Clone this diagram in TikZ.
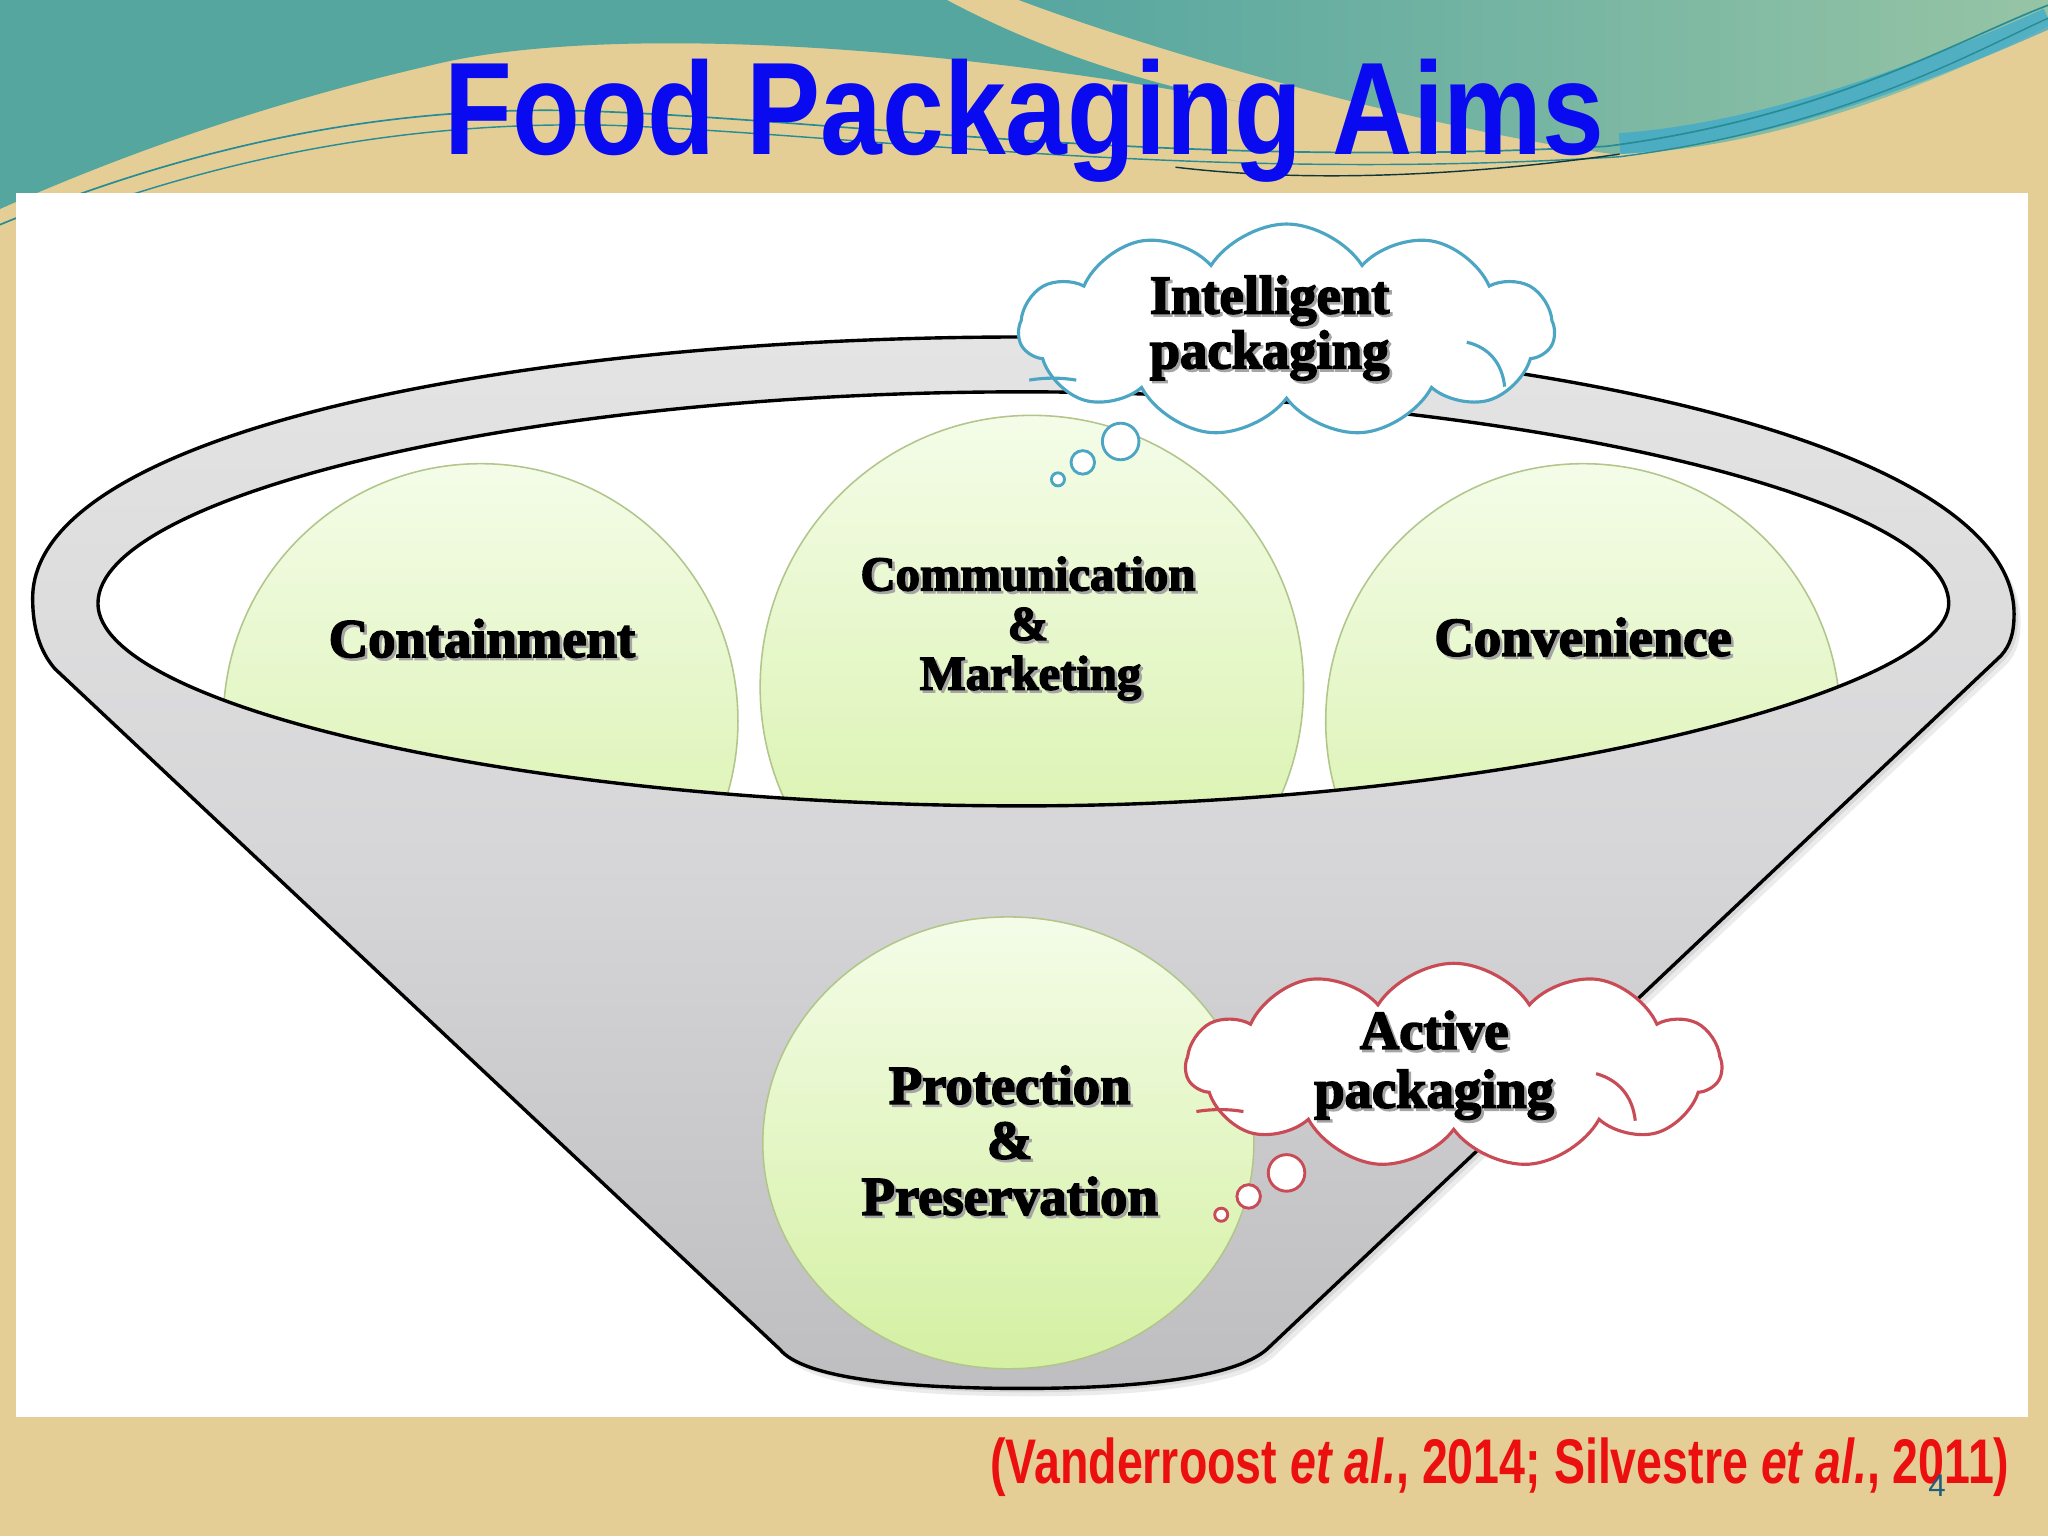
\documentclass[tikz,border=0pt]{standalone}
\usepackage{fontspec}
\usepackage{graphicx}
\usetikzlibrary{shapes.symbols}
\setmainfont{Liberation Serif}
\newfontfamily\sansb{Liberation Sans}
\newfontfamily\lab{Liberation Serif}[BoldFeatures={FakeBold=3}]

\definecolor{tanbg}{RGB}{228,206,150}
\definecolor{tealA}{RGB}{86,166,160}
\definecolor{tealB}{RGB}{150,196,165}
\definecolor{cyanband}{RGB}{60,170,205}
\definecolor{swline}{RGB}{40,140,150}
\definecolor{titleblue}{RGB}{10,10,240}
\definecolor{citered}{RGB}{235,15,15}
\definecolor{rimgrey}{RGB}{228,228,228}
\definecolor{conemid}{RGB}{214,214,216}
\definecolor{conebot}{RGB}{190,190,192}
\definecolor{greentop}{RGB}{244,252,232}
\definecolor{greenbot}{RGB}{212,240,162}
\definecolor{greenedge}{RGB}{178,198,140}
\definecolor{cloudblue}{RGB}{75,165,195}
\definecolor{cloudred}{RGB}{200,75,85}
\definecolor{pagenum}{RGB}{30,95,125}
\definecolor{shadowgrey}{RGB}{165,165,165}

\tikzset{
  circ/.style={draw=greenedge, line width=1.2pt, top color=greentop, bottom color=greenbot},
  lblbig/.style={font=\lab\bfseries\fontsize{41.8}{42}\selectfont, inner sep=0pt},
  lblsmall/.style={font=\lab\bfseries\fontsize{37.2}{38}\selectfont, inner sep=0pt},
  thought/.style={cloud, cloud puffs=11, cloud puff arc=115, cloud ignores aspect,
     fill=white, line width=2.4pt, inner sep=0pt},
  bub/.style={circle, fill=white, line width=2.2pt, inner sep=0pt},
  rimline/.style={draw=black, line width=2.6pt},
}

\newcommand\lline[5]{%
  \node[#4, text=shadowgrey, anchor=base] (#1s) at (#2+2,#3+2) {#5};
  \node[#4, text=black, anchor=base] (#1) at (#2,#3) {#5};}

\def\outerpath{(25,458) .. controls (25,330) and (400,258) .. (783,258)
  .. controls (1170,258) and (1542,340) .. (1542,470)
  .. controls (1542,485) and (1539,494) .. (1532,502) -- (970,1033)
  .. controls (945,1055) and (870,1063) .. (783,1063)
  .. controls (690,1063) and (615,1055) .. (597,1033) -- (42,512)
  .. controls (30,498) and (25,480) .. (25,458) -- cycle}
\def\innerpath{(75,462) .. controls (75,380) and (400,300) .. (783,300)
  .. controls (1150,300) and (1492,380) .. (1492,462)
  .. controls (1492,530) and (1150,617) .. (783,617)
  .. controls (400,617) and (75,540) .. (75,462) -- cycle}

\begin{document}
\begin{tikzpicture}[x=1pt,y=-1pt]
\useasboundingbox (0,0) rectangle (1568,1176);
% background
\fill[tanbg] (0,0) rectangle (1568,1176);
\fill[tealA] (0,0) -- (725,0) .. controls (800,40) and (880,65) .. (960,80)
   .. controls (700,30) and (450,20) .. (330,50)
   .. controls (200,80) and (90,120) .. (0,160) -- cycle;
\shade[left color=tealA, right color=tealB] (780,0) -- (1568,0) -- (1568,20)
   .. controls (1470,70) and (1350,115) .. (1235,118)
   .. controls (1100,100) and (900,45) .. (780,0) -- cycle;
\draw[cyanband, line width=16pt, opacity=0.75] (1240,110) .. controls (1350,102) and (1470,58) .. (1568,14);
\draw[swline, line width=1.3pt] (0,172) .. controls (150,110) and (300,80) .. (450,85)
   .. controls (650,92) and (900,130) .. (1230,112) .. controls (1400,90) and (1500,30) .. (1568,4);
\draw[swline, line width=1.1pt] (20,178) .. controls (170,118) and (320,92) .. (470,96)
   .. controls (670,104) and (920,140) .. (1240,120) .. controls (1410,98) and (1510,40) .. (1568,14);
\draw[black!60!swline, line width=1.1pt] (900,128) .. controls (1000,140) and (1120,135) .. (1240,118);

% white panel
\fill[white] (12,148) rectangle (1553,1085);

% funnel (soft shadow, body, rim)
\begin{scope}[shift={(5,6)}]
  \fill[black, opacity=0.08] \outerpath;
\end{scope}
\begin{scope}[shift={(3,3)}]
  \fill[black, opacity=0.08] \outerpath;
\end{scope}
\shade[top color=rimgrey, bottom color=conebot, middle color=conemid] \outerpath;
\draw[rimline] \outerpath;
\fill[white] \innerpath;
\begin{scope}
  \clip \innerpath;
  \path[circ] (368,552) circle[radius=197];
  \path[circ] (790,526) circle[radius=208];
  \path[circ] (1212,552) circle[radius=197];
\end{scope}
\draw[rimline] \innerpath;
\path[circ] (772,875) ellipse[x radius=188, y radius=173];

% labels in circles
\lline{cont}{369}{503}{lblbig}{Containment}
\lline{conv}{1212}{502}{lblbig}{Convenience}
\lline{comA}{787}{452}{lblsmall}{Communication}
\lline{comB}{787}{490}{lblsmall}{\&}
\lline{comC}{789}{528}{lblsmall}{Marketing}
\lline{proA}{773}{845}{lblbig}{Protection}
\lline{proB}{773}{887}{lblbig}{\&}
\lline{proC}{773}{930}{lblbig}{Preservation}

% intelligent packaging cloud
\node[thought, draw=cloudblue, minimum width=410pt, minimum height=163pt] (intel) at (985,253) {};
\draw[cloudblue, line width=2.4pt] (788,291) .. controls (800,289) and (812,289) .. (824,291);
\draw[cloudblue, line width=2.4pt] (1123,262) .. controls (1140,266) and (1150,278) .. (1152,296);
\node[bub, draw=cloudblue, minimum size=28pt] (ib1) at (858,338) {};
\node[bub, draw=cloudblue, minimum size=18pt] (ib2) at (829,354) {};
\node[bub, draw=cloudblue, minimum size=10pt] (ib3) at (810,367) {};
\lline{intA}{972}{240}{lblbig}{Intelligent}
\lline{intB}{972}{282}{lblbig}{packaging}

% active packaging cloud
\node[thought, draw=cloudred, minimum width=410pt, minimum height=157pt] (active) at (1113,816) {};
\draw[cloudred, line width=2.4pt] (916,851) .. controls (928,849) and (940,849) .. (952,851);
\draw[cloudred, line width=2.4pt] (1222,822) .. controls (1240,827) and (1250,840) .. (1252,858);
\node[bub, draw=cloudred, minimum size=28pt] (ab1) at (985,898) {};
\node[bub, draw=cloudred, minimum size=18pt] (ab2) at (956,916) {};
\node[bub, draw=cloudred, minimum size=10pt] (ab3) at (935,930) {};
\lline{actA}{1098}{803}{lblbig}{Active}
\lline{actB}{1098}{848}{lblbig}{packaging}

% title
\node[anchor=base west, inner sep=0pt, text=titleblue] (title) at (340,118)
   {\resizebox{888pt}{73pt}{\sansb\bfseries Food Packaging Aims}};
% citation
\node[anchor=base west, inner sep=0pt, text=citered] (cite) at (758,1136)
   {\resizebox{780pt}{35pt}{\sansb\bfseries (Vanderroost \textit{et al.}, 2014; Silvestre \textit{et al.}, 2011)}};
\node[anchor=base, inner sep=0pt, text=pagenum, font=\sansb\fontsize{24}{24}\selectfont] (pnum) at (1483,1146) {4};
\end{tikzpicture}
\end{document}
